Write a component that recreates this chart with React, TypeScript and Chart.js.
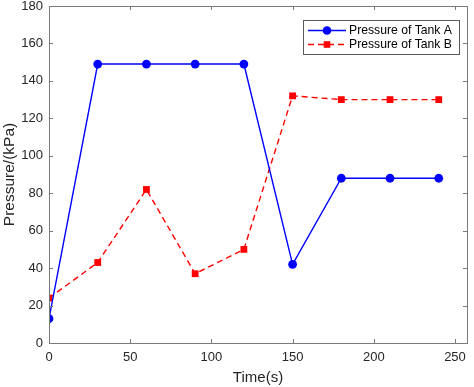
import React, { useEffect, useRef } from "react";
import { Chart, registerables } from "chart.js";

Chart.register(...registerables);

const timeS = [0, 30, 60, 90, 120, 150, 180, 210, 240];
const tankA = [13, 149, 149, 149, 149, 42, 88, 88, 88];
const tankB = [24, 43, 82, 37, 50, 132, 130, 130, 130];
const labelA = "Pressure of Tank A";
const labelB = "Pressure of Tank B";
const xTicks = [0, 50, 100, 150, 200, 250];
const yTicks = [0, 20, 40, 60, 80, 100, 120, 140, 160, 180];

const FONT = "'Liberation Sans', Arial, sans-serif";
const AXIS = "#7a7a7a";
const TEXT = "#262626";

const boxPlugin = {
  id: "boxTicks",
  afterDraw(chart: any) {
    const { ctx, chartArea: a, scales } = chart;
    const xs = scales.x, ys = scales.y;
    ctx.save();
    ctx.strokeStyle = AXIS;
    ctx.lineWidth = 1;
    ctx.strokeRect(Math.round(a.left) + 0.5, Math.round(a.top) + 0.5, Math.round(a.right - a.left), Math.round(a.bottom - a.top));
    const tl = 4;
    ctx.beginPath();
    xTicks.forEach((v) => {
      const px = Math.round(xs.getPixelForValue(v)) + 0.5;
      ctx.moveTo(px, a.bottom); ctx.lineTo(px, a.bottom - tl);
      ctx.moveTo(px, a.top); ctx.lineTo(px, a.top + tl);
    });
    yTicks.forEach((v) => {
      const py = Math.round(ys.getPixelForValue(v)) + 0.5;
      ctx.moveTo(a.left, py); ctx.lineTo(a.left + tl, py);
      ctx.moveTo(a.right, py); ctx.lineTo(a.right - tl, py);
    });
    ctx.stroke();

    // legend
    const lx = 303, ly = 20, lw = 156, lh = 34;
    ctx.fillStyle = "#ffffff";
    ctx.fillRect(lx, ly, lw, lh);
    ctx.strokeStyle = "#5a5a5a";
    ctx.strokeRect(lx + 0.5, ly + 0.5, lw, lh);
    const ds = chart.data.datasets;
    ds.forEach((d: any, i: number) => {
      const cy = ly + 10.5 + i * 14;
      ctx.strokeStyle = d.borderColor;
      ctx.lineWidth = 1.3;
      ctx.setLineDash(d.borderDash || []);
      ctx.beginPath();
      ctx.moveTo(lx + 5, cy); ctx.lineTo(lx + 43, cy);
      ctx.stroke();
      ctx.setLineDash([]);
      ctx.fillStyle = d.pointBackgroundColor;
      if (d.pointStyle === "circle") {
        ctx.beginPath(); ctx.arc(lx + 24, cy, 4.3, 0, Math.PI * 2); ctx.fill();
      } else {
        ctx.fillRect(lx + 20.7, cy - 3.3, 6.6, 6.6);
      }
      ctx.fillStyle = "#000";
      ctx.font = `12.2px ${FONT}`;
      ctx.textBaseline = "middle";
      ctx.textAlign = "left";
      ctx.fillText(d.label, lx + 46, cy + 0.5);
    });
    ctx.restore();
  },
};

export default function App() {
  const ref = useRef<HTMLCanvasElement>(null);
  useEffect(() => {
    document.body.style.margin = "0";
    const chart = new Chart(ref.current!, {
      type: "line",
      data: {
        datasets: [
          {
            label: labelA,
            data: timeS.map((t, i) => ({ x: t, y: tankA[i] })),
            borderColor: "#0000ff",
            backgroundColor: "#0000ff",
            pointBackgroundColor: "#0000ff",
            pointBorderColor: "#0000ff",
            pointStyle: "circle",
            pointRadius: 4.4,
            pointBorderWidth: 0,
            borderWidth: 1.4,
            tension: 0,
          },
          {
            label: labelB,
            data: timeS.map((t, i) => ({ x: t, y: tankB[i] })),
            borderColor: "#ff0000",
            backgroundColor: "#ff0000",
            pointBackgroundColor: "#ff0000",
            pointBorderColor: "#ff0000",
            pointStyle: "rect",
            pointRadius: 4.8,
            pointBorderWidth: 0,
            borderWidth: 1.4,
            borderDash: [6, 4],
            tension: 0,
          },
        ] as any,
      },
      options: {
        animation: false,
        responsive: false,
        layout: { padding: { top: 6, right: 7, left: 0, bottom: 0 } },
        plugins: { legend: { display: false }, tooltip: { enabled: false } },
        scales: {
          x: {
            type: "linear",
            min: 0,
            max: 257.4,
            afterBuildTicks: (s: any) => { s.ticks = xTicks.map((v) => ({ value: v })); },
            afterFit: (s: any) => { s.height = 44; s.paddingLeft = 0; s.paddingRight = 0; },
            grid: { display: false, drawTicks: false },
            border: { display: false },
            ticks: { color: TEXT, font: { family: FONT, size: 13 }, padding: 7, maxRotation: 0 },
            title: { display: true, text: "Time(s)", color: TEXT, font: { family: FONT, size: 15 }, padding: { top: 0, bottom: 0 } },
          },
          y: {
            type: "linear",
            min: 0,
            max: 180,
            afterBuildTicks: (s: any) => { s.ticks = yTicks.map((v) => ({ value: v })); },
            afterFit: (s: any) => { s.width = 49; s.paddingTop = 0; s.paddingBottom = 0; },
            grid: { display: false, drawTicks: false },
            border: { display: false },
            ticks: { color: TEXT, font: { family: FONT, size: 13 }, padding: 6 },
            title: { display: true, text: "Pressure/(kPa)", color: TEXT, font: { family: FONT, size: 15.5 }, padding: { top: 0, bottom: 1 } },
          },
        },
      } as any,
      plugins: [boxPlugin],
    });
    return () => chart.destroy();
  }, []);
  return (
    <div style={{ width: 474, height: 387 }}>
      <canvas ref={ref} width={474} height={387} style={{ display: "block" }} />
    </div>
  );
}
